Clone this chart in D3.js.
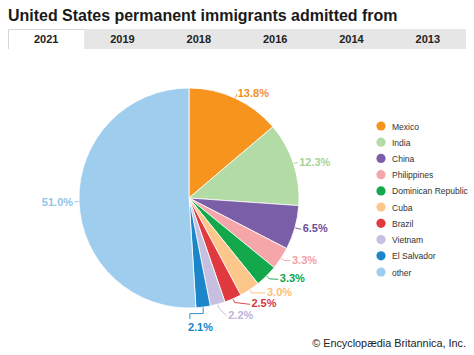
<!DOCTYPE html>
<html><head><meta charset="utf-8">
<script src="https://cdn.jsdelivr.net/npm/d3@7"></script>
<style>body{margin:0;background:#fff}svg{display:block}</style>
</head><body>
<svg id="c" width="474" height="355"></svg>
<script>
const title = "United States permanent immigrants admitted from";
const tabs = ["2021","2019","2018","2016","2014","2013"];
const categories = ["Mexico","India","China","Philippines","Dominican Republic","Cuba","Brazil","Vietnam","El Salvador","other"];
const values = [13.8,12.3,6.5,3.3,3.3,3.0,2.5,2.2,2.1,51.0];
const colors = ["#f7941d","#b3dba5","#7b5ea8","#f4a6a8","#13a84b","#fdc68a","#e0393e","#c7bfe0","#1b86c9","#9fcdee"];
const labelColors = ["#f08f1f","#a7d29a","#6a4f9a","#f29ea1","#0fa347","#fbbd7a","#d9343a","#bdb4d9","#1b82c4","#94c4e8"];
const credit = "© Encyclopædia Britannica, Inc.";

// layout (not data)
const W = 474, H = 355;
const cx = 189, cy = 198, R = 110;
const nudges = [[0,0],[0,0],[2,-1],[6,-2],[9,-2],[14,-3],[16,-1],[9,5],[-16,14],[0,0]];

const svg = d3.select("#c");
const font = "'Liberation Sans', Arial, sans-serif";

function fit(sel, target, base){
  sel.attr("font-size", base);
  const w = sel.node().getComputedTextLength();
  sel.attr("font-size", base * target / w);
}

const t = svg.append("text").attr("x", 8).attr("y", 21)
  .attr("font-family", font).attr("font-weight", "bold")
  .attr("fill", "#1a1a1a").text(title);
fit(t, 390, 18);

// tabs
const tabX = d3.scaleBand().domain(tabs).range([8, 466]);
const tabG = svg.append("g");
tabG.append("rect").attr("x", 8).attr("y", 29).attr("width", 458).attr("height", 20)
  .attr("fill", "#e6e6e6");
tabG.selectAll("rect.t").data(tabs).join("rect").attr("class","t")
  .attr("x", d => tabX(d)).attr("y", 29).attr("width", tabX.bandwidth()).attr("height", 20)
  .attr("fill", (d,i) => i === 0 ? "#ffffff" : "#e6e6e6");
tabG.append("path")
  .attr("d", `M8.5,49 V29.5 H${8+tabX.bandwidth()}`)
  .attr("fill","none").attr("stroke","#d6d6d6").attr("stroke-width",1);
tabG.selectAll("text").data(tabs).join("text")
  .attr("x", d => tabX(d) + tabX.bandwidth()/2).attr("y", 43)
  .attr("text-anchor","middle").attr("font-family", font).attr("font-weight","bold")
  .attr("font-size", 11).attr("fill","#222").text(d => d);

// pie
const pie = d3.pie().sort(null).value(d => d.v);
const data = categories.map((c,i) => ({c, v: values[i], i}));
const arcs = pie(data);
const arc = d3.arc().innerRadius(0).outerRadius(R);
const g = svg.append("g").attr("transform", `translate(${cx},${cy})`);
g.selectAll("path.s").data(arcs).join("path").attr("class","s")
  .attr("d", arc).attr("fill", d => colors[d.data.i])
  .attr("stroke", "#fff").attr("stroke-width", 0.8);

function polar(a, r){ return [r*Math.sin(a), -r*Math.cos(a)]; }

arcs.forEach(d => {
  const i = d.data.i;
  const a = (d.startAngle + d.endAngle)/2;
  const right = Math.sin(a) >= 0;
  const [bx, by] = polar(a, R + 6);
  const lx = bx + nudges[i][0], ly = by + nudges[i][1];
  const p0 = polar(a, R + 0.5), p1 = polar(a, R + 4);
  let pts;
  const below = i === 8;
  if (below) {
    pts = [p0, [p0[0], p0[1]+6], [lx+2, p0[1]+6], [lx+2, ly-8]];
  } else if (right) {
    pts = [p0, p1, [lx-1.5, ly+1]];
  } else {
    pts = [p0, p1, [lx+1.5, ly+1]];
  }
  g.append("path").attr("d", d3.line()(pts)).attr("fill","none")
    .attr("stroke", labelColors[i]).attr("stroke-width", 0.9);
  g.append("text")
    .attr("x", lx).attr("y", ly + 4)
    .attr("text-anchor", below ? "start" : (right ? "start" : "end"))
    .attr("font-family", font).attr("font-weight","bold").attr("font-size", 11)
    .attr("fill", labelColors[i])
    .text(d.data.v.toFixed(1) + "%");
});

// legend
const ly = d3.scalePoint().domain(categories).range([126, 272]);
const leg = svg.append("g");
leg.selectAll("circle").data(categories).join("circle")
  .attr("cx", 381).attr("cy", d => ly(d)).attr("r", 4.6)
  .attr("fill", (d,i) => colors[i]);
const lt = leg.selectAll("text").data(categories).join("text")
  .attr("x", 392).attr("y", d => ly(d) + 3.5)
  .attr("font-family", font).attr("font-size", 9.5).attr("fill","#333").text(d => d);
// size legend so the longest entry spans the reference width
const longest = lt.filter(d => d === "Dominican Republic");
longest.attr("font-size", 9.5);
const lw = longest.node().getComputedTextLength();
lt.attr("font-size", 9.5 * 76 / lw);

const cr = svg.append("text").attr("x", 466).attr("y", 347).attr("text-anchor","end")
  .attr("font-family", font).attr("fill","#222").text(credit);
fit(cr, 154, 12);
</script>
</body></html>
